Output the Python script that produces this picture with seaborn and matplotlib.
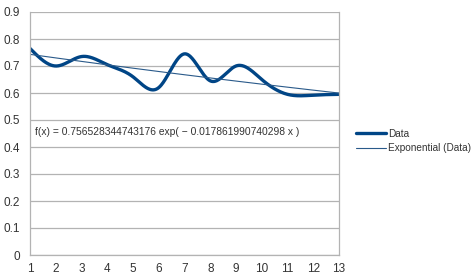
import numpy as np
import pandas as pd
import matplotlib
matplotlib.use("Agg")
import matplotlib.pyplot as plt
import seaborn as sns

x_vals = [1, 2, 3, 4, 5, 6, 7, 8, 9, 10, 11, 12, 13]
y_vals = [0.765, 0.70, 0.735, 0.705, 0.66, 0.62, 0.745, 0.645, 0.70, 0.65, 0.595, 0.592, 0.595]
trend_a = 0.756528344743176
trend_b = -0.017861990740298
equation = "f(x) = 0.756528344743176 exp( \u2212 0.017861990740298 x )"
y_ticks = [0, 0.1, 0.2, 0.3, 0.4, 0.5, 0.6, 0.7, 0.8, 0.9]

def natural_spline(x, y, n=40):
    x = np.asarray(x, float); y = np.asarray(y, float)
    m = len(x); h = np.diff(x)
    A = np.zeros((m, m)); r = np.zeros(m)
    A[0, 0] = A[-1, -1] = 1
    for i in range(1, m - 1):
        A[i, i - 1] = h[i - 1]; A[i, i] = 2 * (h[i - 1] + h[i]); A[i, i + 1] = h[i]
        r[i] = 6 * ((y[i + 1] - y[i]) / h[i] - (y[i] - y[i - 1]) / h[i - 1])
    M = np.linalg.solve(A, r)
    xs, ys = [], []
    for i in range(m - 1):
        t = np.linspace(x[i], x[i + 1], n, endpoint=(i == m - 2))
        a = x[i + 1] - t; b = t - x[i]
        s = (M[i] * a**3 + M[i + 1] * b**3) / (6 * h[i]) + (y[i] / h[i] - M[i] * h[i] / 6) * a + (y[i + 1] / h[i] - M[i + 1] * h[i] / 6) * b
        xs.append(t); ys.append(s)
    return np.concatenate(xs), np.concatenate(ys)

sns.set_style("white")
plt.rcParams["font.family"] = ["Liberation Sans", "DejaVu Sans"]

fig = plt.figure(figsize=(4.74, 2.78), dpi=100)
ax = fig.add_axes([30 / 474, 1 - 255 / 278, 309 / 474, 243 / 278])

sx, sy = natural_spline(x_vals, y_vals)
df = pd.DataFrame({"x": sx, "y": sy})
sns.lineplot(data=df, x="x", y="y", ax=ax, color="#004586", linewidth=2.4, label="Data", sort=False)

tx = np.array(x_vals, float)
tdf = pd.DataFrame({"x": tx, "y": trend_a * np.exp(trend_b * tx)})
sns.lineplot(data=tdf, x="x", y="y", ax=ax, color="#2a5a8a", linewidth=0.8, label="Exponential (Data)")

ax.set_xlim(1, 13)
ax.set_ylim(0, 0.9)
ax.set_xticks(x_vals)
ax.set_xticklabels([str(v) for v in x_vals])
ax.set_yticks(y_ticks)
ax.set_yticklabels([f"{v:g}" for v in y_ticks])
ax.grid(axis="y", color="#b3b3b3", linewidth=0.9)
ax.set_axisbelow(True)
ax.set_xlabel(""); ax.set_ylabel("")
for s in ["left", "bottom", "right"]:
    ax.spines[s].set_visible(True)
    ax.spines[s].set_color("#b3b3b3")
    ax.spines[s].set_linewidth(0.9)
ax.spines["top"].set_visible(False)
ax.tick_params(axis="both", which="both", length=4, width=0.9, color="#b3b3b3",
               labelsize=8.5, labelcolor="#333333", direction="out", pad=2)
ax.tick_params(axis="y", pad=3)

ax.text(1.2, 0.455, equation, fontsize=7.4, color="#333333", va="center", ha="left")

leg = ax.legend(loc="center left", bbox_to_anchor=(1.055, 0.47), frameon=False,
                fontsize=7.2, handlelength=3.0, handletextpad=0.2, labelspacing=0.45, borderaxespad=0,
                borderpad=0)
for t in leg.get_texts():
    t.set_color("#333333")

fig.savefig("out.png", dpi=100)
